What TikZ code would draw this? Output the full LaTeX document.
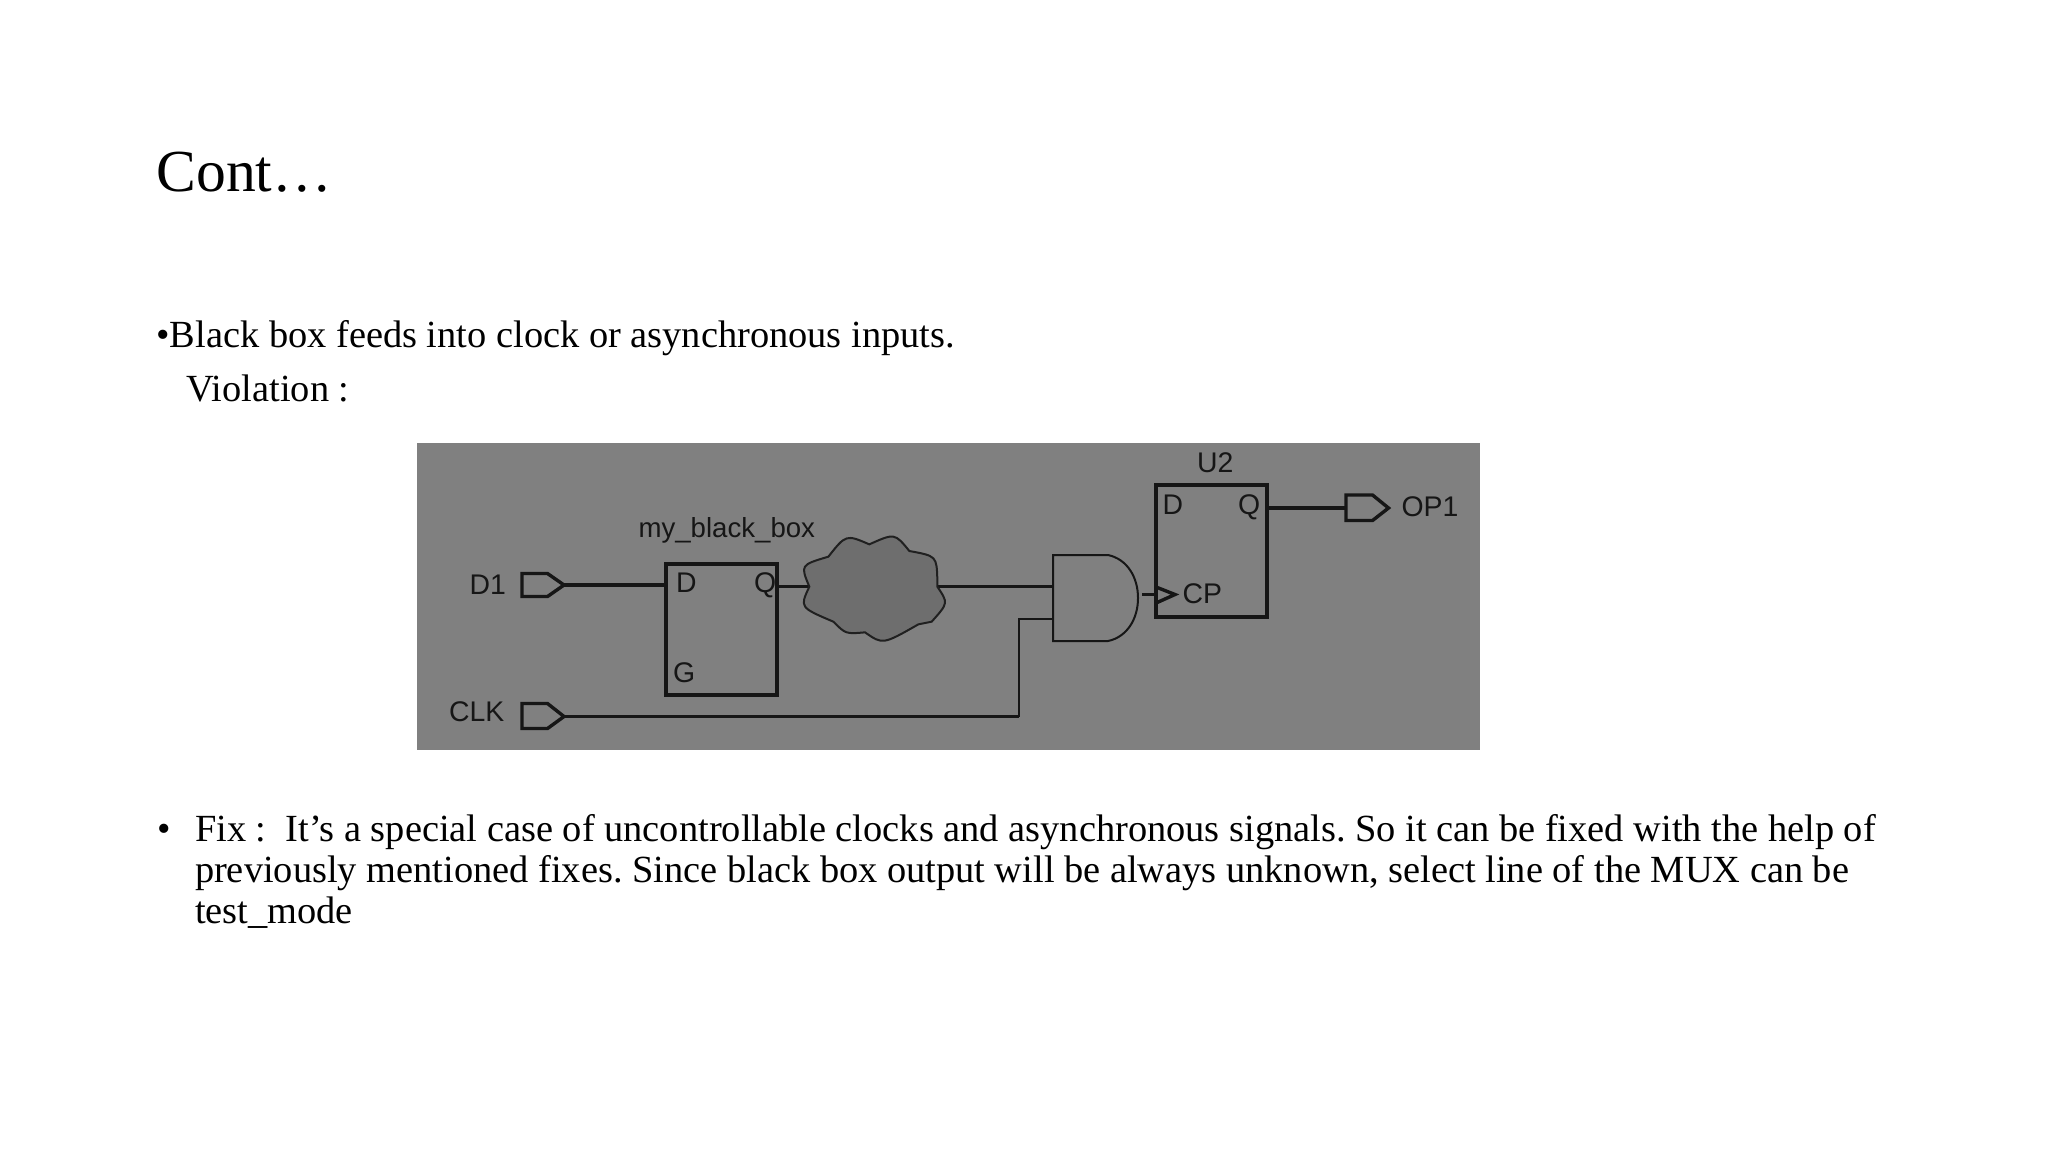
\documentclass[tikz,border=0pt]{standalone}
\usepackage{fontspec}
\setmainfont{Liberation Serif}
\newfontfamily\lblfont{Liberation Sans}
\definecolor{panelgray}{HTML}{808080}
\definecolor{cloudgray}{HTML}{6E6E6E}
\definecolor{ink}{HTML}{161616}
\tikzset{
  slidetext/.style={anchor=base west,inner sep=0pt,outer sep=0pt,text=black,font=\fontsize{19.2pt}{23pt}\selectfont\frenchspacing},
  titletext/.style={anchor=base west,inner sep=0pt,outer sep=0pt,text=black,font=\fontsize{29.8pt}{34pt}\selectfont},
  pinlabel/.style={anchor=base west,inner sep=0pt,outer sep=0pt,text=ink,font=\lblfont\fontsize{14.2pt}{16pt}\selectfont},
  namelabel/.style={anchor=base west,inner sep=0pt,outer sep=0pt,text=ink,font=\lblfont\fontsize{13.8pt}{15pt}\selectfont},
  ffbox/.style={draw=ink,line width=1.7pt,inner sep=0pt,outer sep=0pt,minimum width=55.5pt},
  wire/.style={draw=ink,line width=1.8pt},
  thinwire/.style={draw=ink,line width=1.2pt},
  port/.style={draw=ink,line width=1.7pt,line join=miter},
  gateshape/.style={draw=ink,line width=1pt},
  cloudshape/.style={draw=black!75!panelgray,line width=1pt,fill=cloudgray}
}
\begin{document}
\begin{tikzpicture}[x=0.5pt,y=-0.5pt]
\useasboundingbox (0,0) rectangle (2048,1152);
\fill[white] (0,0) rectangle (2048,1152);
% slide text
\node[titletext] (title) at (156.5,191) {Cont…};
\node[slidetext] (bul1) at (156.5,347) {•Black box feeds into clock or asynchronous inputs.};
\node[slidetext] (viol) at (186.5,401) {Violation :};
\node[slidetext] (bul2) at (157,841) {•};
\node[slidetext] (fix1) at (195,841) {Fix :\ \ It’s a special case of uncontrollable clocks and asynchronous signals. So it can be fixed with the help of};
\node[slidetext] (fix2) at (195,882) {previously mentioned fixes. Since black box output will be always unknown, select line of the MUX can be};
\node[slidetext] (fix3) at (195,923.5) {test\_mode};
% panel
\fill[panelgray] (417,443) rectangle (1480,750);
% boxes
\node[ffbox,minimum height=65.5pt] (bb) at (721.5,629.5) {};
\node[ffbox,minimum height=66pt] (u2) at (1211.5,551) {};
% port tips and other free ends
\coordinate (d1tip) at (564,585);
\coordinate (clktip) at (564,716.5);
\coordinate (opbase) at (1346,508);
\coordinate (cloudL) at (810,586.5);
\coordinate (cloudR) at (937,586.5);
\coordinate (gateA) at (1053,586.5);
\coordinate (gateB) at (1053,619);
\coordinate (gateOut) at (1142,594.5);
\coordinate (cpbase) at (1156,594.5);
\coordinate (corner1) at (1019,716.5);
\coordinate (corner2) at (1019,619);
% ports
\draw[port] (522,573.5) -- (547.5,573.5) -- (d1tip) -- (547.5,596.5) -- (522,596.5) -- cycle;
\draw[port] (522,703.5) -- (547.5,703.5) -- (clktip) -- (547.5,728.5) -- (522,728.5) -- cycle;
\draw[port] (opbase |- 0,495) -- (1372.5,495) -- (1388.5,508) -- (1372.5,520.5) -- (opbase |- 0,520.5) -- cycle;
% connectors
\draw[wire] (d1tip) -- (bb.west |- d1tip);
\draw[wire] (bb.east |- cloudL) -- (cloudL);
\draw[wire] (cloudR) -- (gateA);
\draw[wire] (clktip) -- (corner1);
\draw[thinwire] (corner1) -- (corner2) -- (gateB);
\draw[wire] (u2.east |- opbase) -- (opbase);
\draw[wire] (gateOut) -- (cpbase);
% clock triangle
\draw[port] (1156,587) -- (1175,594.5) -- (1156,603);
% AND gate
\draw[gateshape] (1053,555) -- (1108,555) .. controls (1127,559) and (1138,577) .. (1138,598) .. controls (1138,619) and (1127,637) .. (1108,641) -- (1053,641) -- cycle;
% cloud
\begin{scope}[shift={(790,525)},x=0.16667pt,y=-0.16667pt]
\draw[cloudshape] (58,185) .. controls (31,120) .. (115,95)
  .. controls (168,28) .. (238,58)
  .. controls (314,24) .. (358,78)
  .. controls (440,93) .. (442,165)
  -- (442,185)
  .. controls (475,234) .. (425,290)
  -- (385,298)
  .. controls (278,359) .. (225,322)
  .. controls (167,327) .. (130,290)
  .. controls (29,247) .. cycle;
\end{scope}
% labels
\node[pinlabel] (d1) at (469.5,594) {D1};
\node[pinlabel] (clk) at (449,721) {CLK};
\node[namelabel] (bbname) at (638.6,537) {my\_black\_box};
\node[pinlabel] (bbd) at (676,592) {D};
\node[pinlabel] (bbq) at (754,592) {Q};
\node[pinlabel] (bbg) at (673,682) {G};
\node[pinlabel] (u2name) at (1197,472) {U2};
\node[pinlabel] (u2d) at (1162.5,514) {D};
\node[pinlabel] (u2q) at (1238,514) {Q};
\node[pinlabel] (u2cp) at (1182.5,603.5) {CP};
\node[pinlabel] (op1) at (1401.5,516) {OP1};
\end{tikzpicture}
\end{document}
